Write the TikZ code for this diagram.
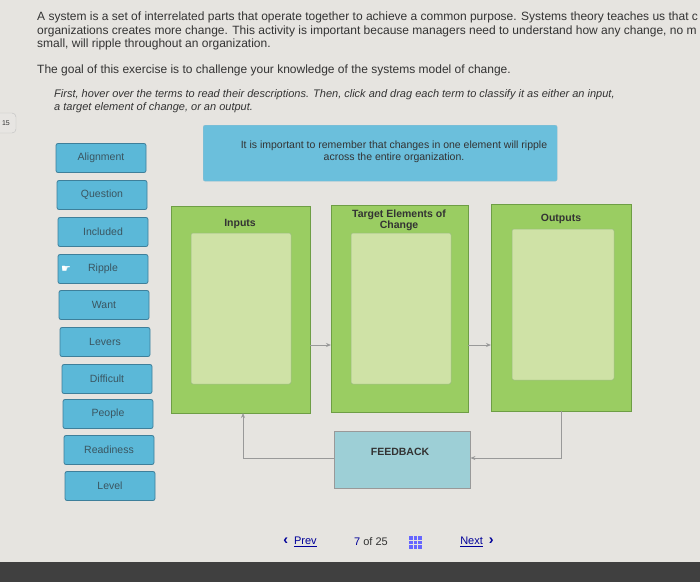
\documentclass[tikz,border=0pt]{standalone}
\usepackage{fontspec}
\setmainfont{Liberation Sans}
\newfontfamily\symfont{DejaVu Sans}
\usetikzlibrary{arrows.meta}
\definecolor{bg}{HTML}{E6E4E0}
\definecolor{btn}{HTML}{5BB8D8}
\definecolor{btnd}{HTML}{3E7F9A}
\definecolor{grn}{HTML}{9ACD62}
\definecolor{grnd}{HTML}{6E9E45}
\definecolor{grnl}{HTML}{CFE2A6}
\definecolor{fb}{HTML}{9DCFD6}
\definecolor{txt}{HTML}{333333}
\definecolor{btxt}{HTML}{3A5560}
\begin{document}
\begin{tikzpicture}[x=1pt,y=-1pt,
  term/.style={draw=btnd,fill=btn,rounded corners=2pt,minimum width=90pt,minimum height=29pt,font=\fontsize{10.5}{11}\selectfont,text=btxt,line width=0.8pt},
  outer/.style={draw=grnd,fill=grn,line width=0.8pt},
  inner/.style={draw=grnd!70,fill=grnl,rounded corners=2pt,line width=0.5pt},
  lbl/.style={font=\bfseries\fontsize{10.5}{11}\selectfont,text=txt,align=center},
  conn/.style={draw=gray!80,line width=1pt,-{Stealth[length=5pt,width=4pt]}}]
\useasboundingbox (0,0) rectangle (700,582);
\fill[bg] (0,0) rectangle (700,582);
\fill[black!75] (0,562) rectangle (700,582);
\draw[gray!50,fill=bg!95!white,rounded corners=4pt] (-5,113) rectangle (16,133);
\node[font=\fontsize{7}{8}\selectfont,text=txt] (badge) at (6,123) {15};
\node[anchor=north west,align=left,font=\fontsize{12}{13.5}\selectfont,text=txt,inner sep=0] (intro) at (37,12)
 {A system is a set of interrelated parts that operate together to achieve a common purpose. Systems theory teaches us that c\\organizations creates more change. This activity is important because managers need to understand how any change, no m\\small, will ripple throughout an organization.};
\node[anchor=north west,font=\fontsize{12}{13}\selectfont,text=txt,inner sep=0] (goal) at (37,65) {The goal of this exercise is to challenge your knowledge of the systems model of change.};
\node[anchor=north west,align=left,font=\itshape\fontsize{11}{13}\selectfont,text=txt,inner sep=0] (instr) at (54,89)
 {First, hover over the terms to read their descriptions. Then, click and drag each term to classify it as either an input,\\a target element of change, or an output.};
\node[draw=btn!80!black!60,fill=btn!90!white,rounded corners=2pt,minimum width=354pt,minimum height=56pt,anchor=north west,inner sep=0] (banner) at (203,125) {};
\node[font=\fontsize{10.5}{11.5}\selectfont,text=txt,align=center] (bannert) at (394,152) {It is important to remember that changes in one element will ripple\\across the entire organization.};
\node[term] (t1) at (101,158) {Alignment};
\node[term] (t2) at (102,195) {Question};
\node[term] (t3) at (103,232) {Included};
\node[term] (t4) at (103,269) {Ripple};
\node[term] (t5) at (104,305) {Want};
\node[term] (t6) at (105,342) {Levers};
\node[term] (t7) at (107,379) {Difficult};
\node[term] (t8) at (108,414) {People};
\node[term] (t9) at (109,450) {Readiness};
\node[term] (t10) at (110,486) {Level};
\node[text=white,font=\symfont\fontsize{11}{11}\selectfont] (hand) at (66,269) {☛};
\draw[outer] (171,206) rectangle (310,413);
\draw[inner] (191,233) rectangle (291,384);
\draw[outer] (331,205) rectangle (468,412);
\draw[inner] (351,233) rectangle (451,384);
\draw[outer] (491,204) rectangle (631,411);
\draw[inner] (512,229) rectangle (614,380);
\coordinate (inR) at (310,345); \coordinate (tgL) at (331,345);
\coordinate (tgR) at (468,345); \coordinate (ouL) at (491,345);
\node[lbl] (li) at (240,224) {Inputs};
\node[lbl] (lt) at (399,220) {Target Elements of\\Change};
\node[lbl] (lo) at (561,219) {Outputs};
\draw[conn] (inR) -- (tgL);
\draw[conn] (tgR) -- (ouL);
\node[draw=gray!80,fill=fb,minimum width=136pt,minimum height=57pt,anchor=north west,inner sep=0] (fbk) at (334,431) {};
\node[lbl] (fbt) at (400,452) {FEEDBACK};
\coordinate (ob) at (561,411); \coordinate (ib) at (243,413);
\draw[conn] (ob) -- (561,458) -- (fbk.east |- 0,458);
\draw[conn] (fbk.west |- 0,458) -- (243,458) -- (ib);
\node[font=\fontsize{11}{12}\selectfont,text=blue!60!black] (prev) at (300,542) {\textbf{\Large\char"2039}\hspace{6pt}\underline{Prev}};
\node[font=\fontsize{11}{12}\selectfont,text=txt] (pg) at (371,542) {\textcolor{blue!60!black}{7} of 25};
\foreach \i in {0,1,2} \foreach \j in {0,1,2} \fill[blue!60] (409+\i*4.5,536+\j*4.5) rectangle ++(3.5,3.5);
\node[font=\fontsize{11}{12}\selectfont,text=blue!60!black] (next) at (477,542) {\underline{Next}\hspace{6pt}\textbf{\Large\char"203A}};
\end{tikzpicture}
\end{document}
